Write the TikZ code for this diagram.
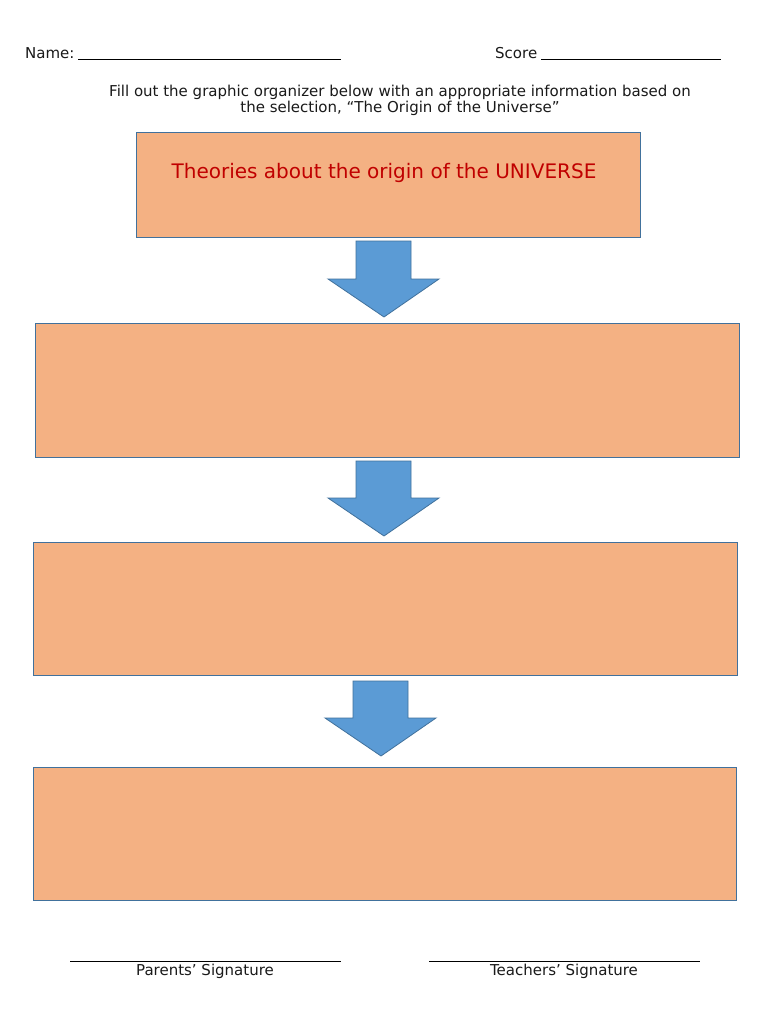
\documentclass[tikz,border=0pt]{standalone}
\usepackage{fontspec}
\setmainfont{DejaVu Sans}
\definecolor{boxfill}{HTML}{F4B183}
\definecolor{boxline}{HTML}{41719C}
\definecolor{arrfill}{HTML}{5B9BD5}
\definecolor{titlered}{HTML}{C00000}
\definecolor{textgray}{HTML}{1A1A1A}
\begin{document}
\begin{tikzpicture}[x=1pt,y=-1pt,
  orgbox/.style={draw=boxline,line width=1pt,fill=boxfill},
  blockarrow/.style={draw=boxline,line width=0.8pt,fill=arrfill},
  plain/.style={inner sep=0pt,text=textgray,font=\fontsize{15}{16}\selectfont},
  rule/.style={line width=0.8pt,black}]
\useasboundingbox[fill=white] (0,0) rectangle (768,1024);
% header
\node[plain,anchor=base west] (name) at (25,59) {Name:};
\draw[rule] (78,59) -- (341,59);
\node[plain,anchor=base west] (score) at (495,59) {Score};
\draw[rule] (541,59) -- (721,59);
\node[plain,anchor=base] (instr1) at (400,97) {Fill out the graphic organizer below with an appropriate information based on};
\node[plain,anchor=base] (instr2) at (400,113) {the selection, “The Origin of the Universe”};
% boxes
\path[orgbox] (136,133) rectangle (640,237);
\node[inner sep=0pt,text=titlered,font=\fontsize{20}{24}\selectfont] (title) at (384,173) {Theories about the origin of the UNIVERSE};
\path[orgbox] (35,323) rectangle (739,457);
\path[orgbox] (33,542) rectangle (737,675);
\path[orgbox] (33,767) rectangle (736,900);
% block arrows
\path[blockarrow] (356,241) -- (411,241) -- (411,279) -- (439,279) -- (384,317) -- (328,279) -- (356,279) -- cycle;
\path[blockarrow] (356,461) -- (411,461) -- (411,498) -- (439,498) -- (384,536) -- (328,498) -- (356,498) -- cycle;
\path[blockarrow] (353,681) -- (408,681) -- (408,718) -- (436,718) -- (381,756) -- (325,718) -- (353,718) -- cycle;
% signatures
\draw[rule] (70,961) -- (341,961);
\draw[rule] (429,961) -- (700,961);
\node[plain,anchor=base] (parents) at (205,975) {Parents’ Signature};
\node[plain,anchor=base] (teachers) at (564,975) {Teachers’ Signature};
\end{tikzpicture}
\end{document}
